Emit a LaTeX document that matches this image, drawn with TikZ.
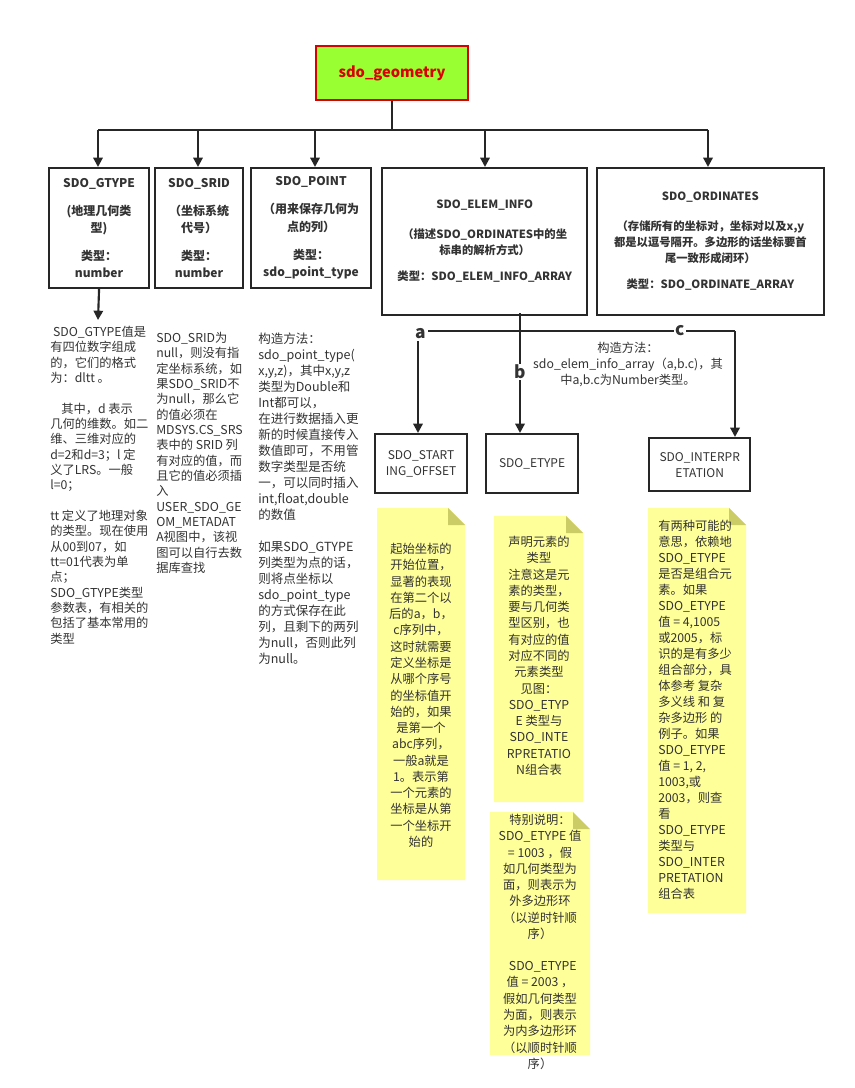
\documentclass[tikz,border=0pt]{standalone}
\usepackage{fontspec}
\setmainfont{Noto Sans CJK SC}
\usetikzlibrary{arrows.meta}
\definecolor{gfill}{HTML}{99FF33}
\definecolor{nfill}{HTML}{FFFF99}
\definecolor{nfold}{HTML}{CCCC66}
\definecolor{tx}{HTML}{333333}
\tikzset{
 box/.style={draw=black!85,line width=1.6pt,fill=white,inner sep=2pt,align=center,text=tx,font=\fontsize{9}{13}\selectfont\bfseries},
 sbox/.style={draw=black!85,line width=1.6pt,fill=white,align=center,text=tx,font=\fontsize{9}{12}\selectfont},
 con/.style={line width=1.6pt,draw=black!85},
 arr/.style={con,-{Triangle[length=7pt,width=7pt]}},
 txt/.style={text=tx,align=left,anchor=north west,font=\fontsize{9.2}{11.5}\selectfont,inner sep=0pt},
 ntxt/.style={text=tx,align=center,anchor=north,font=\fontsize{9.2}{12.2}\selectfont,inner sep=0pt},
 lab/.style={font=\fontsize{13}{13}\selectfont\bfseries,text=tx,fill=white,inner sep=1pt}
}
\newcommand{\note}[4]{\fill[nfill] (#1,#2) -- (#3-17,#2) -- (#3,#2+17) -- (#3,#4) -- (#1,#4) -- cycle;
 \fill[nfold] (#3-17,#2) -- (#3,#2+17) -- (#3-17,#2+17) -- cycle;}
\begin{document}
\begin{tikzpicture}[x=0.75pt,y=-0.75pt]
\useasboundingbox (0,0) rectangle (854,1088);
\fill[white] (0,0) rectangle (854,1088);
% top
\node[draw=red!85!black,line width=1.6pt,fill=gfill,minimum width=114pt,minimum height=40pt,font=\fontsize{11}{13}\selectfont\bfseries,text=red!85!black] (geo) at (392,73) {sdo\_geometry};
\node[box,minimum width=75pt,minimum height=90pt,anchor=north west] (gt) at (48,167) {SDO\_GTYPE\\[8pt](地理几何类\\型)\\[8pt]类型：\\number};
\node[box,minimum width=66pt,minimum height=90pt,anchor=north west] (sr) at (154,167) {SDO\_SRID\\[8pt]（坐标系统\\代号）\\[8pt]类型：\\number};
\node[box,minimum width=90pt,minimum height=90pt,anchor=north west] (pt) at (250,167) {SDO\_POINT\\[8pt]（用来保存几何为\\点的列）\\[8pt]类型：\\sdo\_point\_type};
\node[box,minimum width=154pt,minimum height=110pt,anchor=north west,font=\fontsize{8.5}{12}\selectfont\bfseries] (ei) at (381,167) {SDO\_ELEM\_INFO\\[10pt]（描述SDO\_ORDINATES中的坐\\标串的解析方式）\\[8pt]类型：SDO\_ELEM\_INFO\_ARRAY};
\node[box,minimum width=170pt,minimum height=110pt,anchor=north west,font=\fontsize{8.5}{12}\selectfont\bfseries] (od) at (596,167) {SDO\_ORDINATES\\[10pt]（存储所有的坐标对，坐标对以及x,y\\都是以逗号隔开。多边形的话坐标要首\\尾一致形成闭环）\\[8pt]类型：SDO\_ORDINATE\_ARRAY};
\coordinate (j) at (392,130);
\draw[con] (geo.south) -- (j);
\draw[con] (98,130) -- (708,130);
\draw[arr] (98,130) -- (98,167);
\draw[arr] (198,130) -- (198,167);
\draw[arr] (315,130) -- (315,167);
\draw[arr] (485,130) -- (485,167);
\draw[arr] (708,130) -- (708,167);
\coordinate (gte) at (98,320);
\draw[arr] (gt.south) -- (gte);
% second level
\node[sbox,minimum width=69pt,minimum height=44pt,anchor=north west] (st) at (374,433) {SDO\_START\\ING\_OFFSET};
\node[sbox,minimum width=69pt,minimum height=44pt,anchor=north west] (et) at (485,433) {SDO\_ETYPE};
\node[sbox,minimum width=76pt,minimum height=40pt,anchor=north west] (it) at (648,437) {SDO\_INTERPR\\ETATION};
\draw[con] (520,313) -- (520,331);
\draw[con] (418,331) -- (735,331);
\draw[arr] (418,331) -- (418,433);
\draw[arr] (520,331) -- (520,433);
\draw[arr] (735,331) -- (735,437);
\node[lab] at (421,334) {a};
\node[lab] at (520,372) {b};
\node[lab] at (680,331) {c};
\node[text=tx,align=center,font=\fontsize{9.2}{12}\selectfont] (cm) at (628,364) {构造方法：\\sdo\_elem\_info\_array（a,b.c)，其\\中a,b.c为Number类型。};
% left texts
\node[txt] (t1) at (50,326) {\ SDO\_GTYPE值是\\有四位数字组成\\的，它们的格式\\为：dltt 。\\[11.5pt]\ \ \ \ 其中，d 表示\\几何的维数。如二\\维、三维对应的\\d=2和d=3；l 定\\义了LRS。一般\\l=0；\\[11.5pt]tt 定义了地理对象\\的类型。现在使用\\从00到07，如\\tt=01代表为单\\点；\\SDO\_GTYPE类型\\参数表，有相关的\\包括了基本常用的\\类型};
\node[txt] (t2) at (156,332) {SDO\_SRID为\\null，则没有指\\定坐标系统，如\\果SDO\_SRID不\\为null，那么它\\的值必须在\\MDSYS.CS\_SRS\\表中的 SRID 列\\有对应的值，而\\且它的值必须插\\入\\USER\_SDO\_GE\\OM\_METADAT\\A视图中，该视\\图可以自行去数\\据库查找};
\node[txt,font=\fontsize{9.4}{12}\selectfont] (t3) at (258,333) {构造方法：\\sdo\_point\_type(\\x,y,z)，其中x,y,z\\类型为Double和\\Int都可以，\\在进行数据插入更\\新的时候直接传入\\数值即可，不用管\\数字类型是否统\\一，可以同时插入\\int,float,double\\的数值\\[12pt]如果SDO\_GTYPE\\列类型为点的话，\\则将点坐标以\\sdo\_point\_type\\的方式保存在此\\列，且剩下的两列\\为null，否则此列\\为null。};
% notes
\note{377}{508}{465}{880}
\node[ntxt] (n1) at (421,543) {起始坐标的\\开始位置，\\显著的表现\\在第二个以\\后的a，b，\\c序列中，\\这时就需要\\定义坐标是\\从哪个序号\\的坐标值开\\始的，如果\\是第一个\\abc序列，\\一般a就是\\1。表示第\\一个元素的\\坐标是从第\\一个坐标开\\始的};
\note{494}{516}{583}{802}
\node[ntxt] (n2) at (539,536) {声明元素的\\类型\\注意这是元\\素的类型，\\要与几何类\\型区别，也\\有对应的值\\对应不同的\\元素类型\\见图：\\SDO\_ETYP\\E 类型与\\SDO\_INTE\\RPRETATIO\\N组合表};
\note{490}{812}{590}{1055}
\node[ntxt] (n3) at (540,814) {特别说明：\\SDO\_ETYPE 值\\= 1003 ，假\\如几何类型为\\面，则表示为\\外多边形环\\（以逆时针顺\\序）\\[12pt]\ \ SDO\_ETYPE\\值 = 2003 ，\\假如几何类型\\为面，则表示\\为内多边形环\\（以顺时针顺\\序）};
\note{648}{508}{746}{913}
\node[txt,font=\fontsize{9.2}{12}\selectfont] (n4) at (658,520) {有两种可能的\\意思，依赖地\\SDO\_ETYPE\\是否是组合元\\素。如果\\SDO\_ETYPE\\值 = 4,1005\\或2005，标\\识的是有多少\\组合部分，具\\体参考 复杂\\多义线 和 复\\杂多边形 的\\例子。如果\\SDO\_ETYPE\\值 = 1, 2,\\1003,或\\2003，则查\\看\\SDO\_ETYPE\\类型与\\SDO\_INTER\\PRETATION\\组合表};
\end{tikzpicture}
\end{document}
